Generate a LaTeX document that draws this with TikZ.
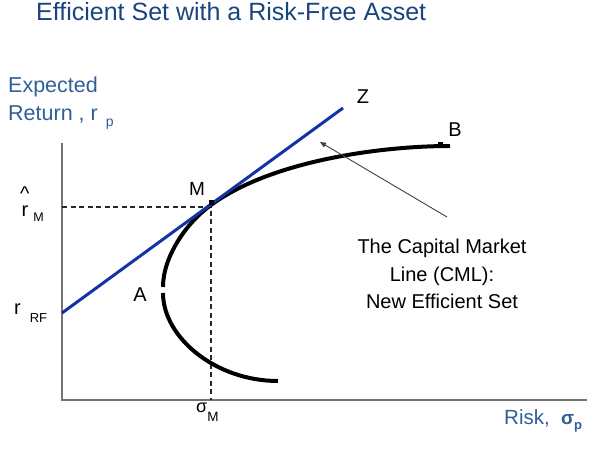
\documentclass[tikz,border=0pt]{standalone}
\usepackage{fontspec}
\setmainfont{Liberation Sans}
\usetikzlibrary{arrows.meta}
\definecolor{titleblue}{HTML}{1A4480}
\definecolor{labelblue}{HTML}{2F5F98}
\definecolor{cmlblue}{HTML}{1433A6}
\definecolor{axisgray}{HTML}{737373}
\begin{document}
\begin{tikzpicture}[x=1pt,y=-1pt,
  lbl/.style={inner sep=0pt, font=\fontsize{20}{24}\selectfont},
  bluelbl/.style={inner sep=0pt, anchor=base west, text=labelblue, font=\fontsize{21.5}{24}\selectfont},
  axisline/.style={draw=axisgray, line width=1.5pt},
  cmlline/.style={draw=cmlblue, line width=3pt},
  dashline/.style={draw=black!85, line width=1.1pt, dash pattern=on 5pt off 3.5pt},
  frontier/.style={draw=black, line width=4pt},
  marker/.style={fill=black, inner sep=0pt, minimum width=5pt, minimum height=5pt},
  pointer/.style={draw=black!75, line width=0.9pt, -{Triangle[length=6pt,width=5pt]}}]
\useasboundingbox (0,0) rectangle (590,465);
% title
\node[anchor=base west, inner sep=0pt, text=titleblue, font=\fontsize{25}{28}\selectfont] (title) at (36,21) {Efficient Set with a Risk-Free Asset};
% axes
\coordinate (O) at (62,400);
\coordinate (ytop) at (62,143);
\coordinate (xend) at (587,400);
\draw[axisline] (ytop) -- (O) -- (xend);
% dashed guides
\coordinate (rMy) at (62,207);
\coordinate (Mcorner) at (211,207);
\coordinate (sMx) at (211,400);
\draw[dashline] (rMy) -- (Mcorner) -- (sMx);
% efficient frontier
\draw[frontier] (163,287) .. controls (163,257) and (186,223) .. (211,205) .. controls (271,161) and (380,146) .. (450,146);
\draw[frontier] (163,293) .. controls (163,337) and (215,381) .. (278,381);
% CML
\coordinate (rf) at (62,313);
\coordinate (zend) at (343,108);
\draw[cmlline] (rf) -- (zend);
% markers
\node[marker] (Mmark) at (211,203) {};
\node[marker, minimum height=4pt] (Bmark) at (440,144) {};
% point labels
\node[lbl] (Alab) at (140,295) {A};
\node[lbl] (Blab) at (455,130) {B};
\node[lbl] (Zlab) at (363,97) {Z};
\node[lbl, font=\fontsize{19}{22}\selectfont] (Mlab) at (197,189) {M};
% axis labels
\node[bluelbl] (ylab1) at (8,93) {Expected};
\node[bluelbl] (ylab2) at (8,121) {Return , r\raisebox{-6pt}{\fontsize{14}{14}\selectfont\hspace{8pt}p}};
\node[bluelbl, font=\fontsize{20.5}{24}\selectfont] (xlab) at (504,425) {Risk,\ \ {\fontsize{19}{19}\selectfont\bfseries σ}\raisebox{-5pt}{\fontsize{13}{13}\selectfont\bfseries p}};
% tick labels
\node[lbl, anchor=base west] (rMlab) at (20,217) {\rlap{\raisebox{16pt}{\textasciicircum}}\hspace{1.5pt}r\raisebox{-5pt}{\fontsize{12.5}{12.5}\selectfont\hspace{5pt}M}};
\node[lbl, anchor=base west] (rRFlab) at (14,315) {r\raisebox{-8pt}{\fontsize{13}{13}\selectfont\hspace{9pt}RF}};
\node[lbl, anchor=base west, font=\fontsize{18}{18}\selectfont] (sMlab) at (196,413) {σ\raisebox{-9pt}{\fontsize{13.5}{13.5}\selectfont M}};
% CML annotation
\node[inner sep=0pt, align=center, font=\fontsize{20}{27.5}\selectfont] (cmltext) at (442,274) {The Capital Market\\Line (CML):\\New Efficient Set};
\coordinate (atail) at (447,217);
\coordinate (ahead) at (320,142);
\draw[pointer] (atail) -- (ahead);
\end{tikzpicture}
\end{document}
